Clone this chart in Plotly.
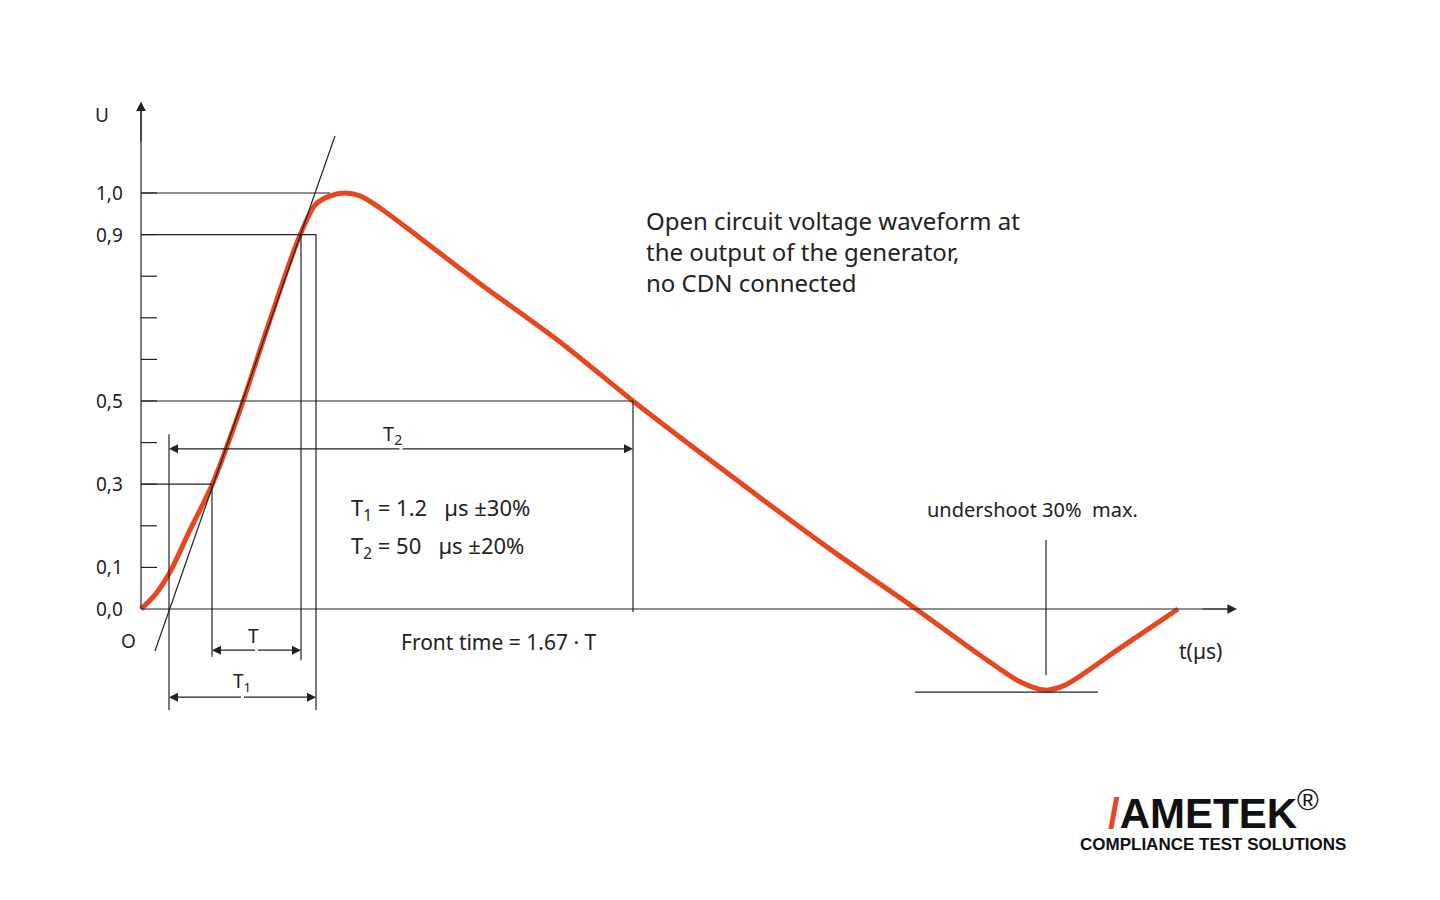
import plotly.graph_objects as go

# waveform (x units from axis origin, U)
wave_x = [0, 14, 29, 49, 71, 99, 129, 157, 174, 189, 204, 219, 239, 279, 339, 419, 492, 589, 689, 775, 839, 879, 904, 924, 979, 1037]
wave_u = [0.0, 0.034, 0.089, 0.190, 0.298, 0.478, 0.695, 0.887, 0.971, 0.993, 1.0, 0.993, 0.964, 0.892, 0.782, 0.642, 0.5, 0.322, 0.144, 0.0, -0.111, -0.175, -0.195, -0.183, -0.094, 0.0]

tick_u = [1.0, 0.9, 0.5, 0.3, 0.1, 0.0]
tick_lbl = ["1,0", "0,9", "0,5", "0,3", "0,1", "0,0"]
minor_u = [0.8, 0.7, 0.6, 0.4, 0.2]

ref_lines = [
    (0, 1.0, 189, 1.0), (0, 0.9, 175, 0.9), (0, 0.5, 492, 0.5), (0, 0.3, 71, 0.3),
    (28, 0.42, 28, -0.243), (71, 0.298, 71, -0.115), (160, 0.899, 160, -0.123),
    (175, 0.901, 175, -0.243), (492, 0.5, 492, -0.007),
    (14, -0.101, 194, 1.137),
    (905, 0.166, 905, -0.159), (774, -0.200, 957, -0.200),
]
arrows = [(28, 492, 0.385), (71, 160, -0.099), (28, 175, -0.212)]

fig = go.Figure()
fig.add_trace(go.Scatter(x=wave_x, y=wave_u, mode="lines", line=dict(color="#e8461f", width=5, shape="spline", smoothing=0.8), hoverinfo="skip"))

shapes = []
blk = dict(color="#222", width=1.2)
for x0, u0, x1, u1 in ref_lines:
    shapes.append(dict(type="line", x0=x0, y0=u0, x1=x1, y1=u1, line=blk))
shapes.append(dict(type="line", x0=0, y0=0, x1=1090, y1=0, line=blk))
shapes.append(dict(type="line", x0=0, y0=0, x1=0, y1=1.21, line=blk))
for u in tick_u[:-1] + minor_u:
    shapes.append(dict(type="line", x0=0, y0=u, x1=16, y1=u, line=blk))

ann = []
F = "Noto Sans"
for u, l in zip(tick_u, tick_lbl):
    ann.append(dict(x=-16, y=u, text=l, showarrow=False, xanchor="right", font=dict(family=F, size=19, color="#222")))
ann.append(dict(x=1096, y=0, ax=1060, ay=0, axref="x", ayref="y", text="", showarrow=True, arrowhead=2, arrowsize=1.6, arrowwidth=1.2, arrowcolor="#222"))
ann.append(dict(x=0, y=1.22, ax=0, ay=1.12, axref="x", ayref="y", text="", showarrow=True, arrowhead=2, arrowsize=1.6, arrowwidth=1.2, arrowcolor="#222"))
for xa, xb, u in arrows:
    for a, b in ((xa, xb), (xb, xa)):
        ann.append(dict(x=b, y=u, ax=(a + b) / 2, ay=u, axref="x", ayref="y", text="", showarrow=True, arrowhead=2, arrowsize=1.5, arrowwidth=1.2, arrowcolor="#222"))

def t(x, u, s, size=21, anchor="left"):
    ann.append(dict(x=x, y=u, text=s, showarrow=False, xanchor=anchor, align="left", font=dict(family=F, size=size, color="#222")))

t(-48, 1.188, "U", 19)
t(-22, -0.077, "O", 19)
t(240, 0.42, "T<sub>2</sub>", 20)
t(105, -0.065, "T", 19)
t(90, -0.175, "T<sub>1</sub>", 19)
t(208, 0.24, "T<sub>1</sub> = 1.2   µs ±30%", 22)
t(208, 0.15, "T<sub>2</sub> = 50   µs ±20%", 22)
t(258, -0.08, "Front time = 1.67 · T", 21)
t(1036, -0.10, "t(µs)", 21)
t(784, 0.238, "undershoot 30%  max.", 20)
t(503, 0.86, "Open circuit voltage waveform at<br>the output of the generator,<br>no CDN connected", 24)

ann.append(dict(x=1072, y=-0.482, text="<b><span style='color:#e8461f'>/</span>AMETEK</b><sup>®</sup>", showarrow=False, xanchor="center", font=dict(family="Liberation Sans", size=42, color="#111")))
ann.append(dict(x=1072, y=-0.567, text="<b>COMPLIANCE TEST SOLUTIONS</b>", showarrow=False, xanchor="center", font=dict(family="Liberation Sans", size=17, color="#111")))

top = (609 - 8) / 416
fig.update_layout(
    width=1440, height=900, margin=dict(l=0, r=0, t=0, b=0),
    paper_bgcolor="white", plot_bgcolor="white", showlegend=False,
    xaxis=dict(range=[-133, 1307], visible=False, fixedrange=True),
    yaxis=dict(range=[top - 900 / 416, top], visible=False, fixedrange=True),
    shapes=shapes, annotations=ann,
)
fig.write_html("out.html")
